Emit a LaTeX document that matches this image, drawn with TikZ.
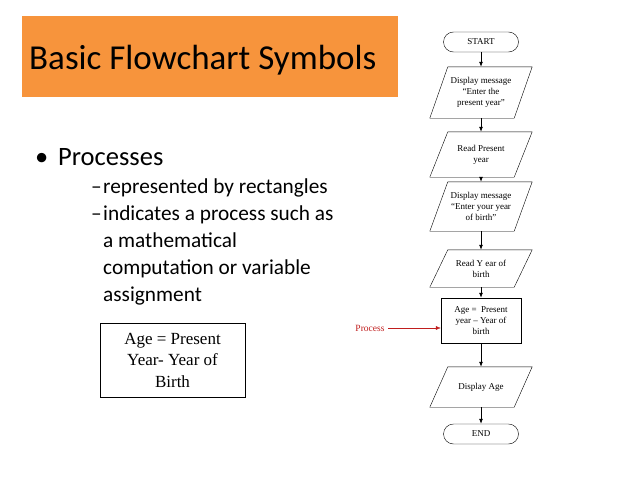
\documentclass[tikz,border=0pt]{standalone}
\usepackage{fontspec}
\setmainfont{Liberation Serif}
\newfontfamily\carl{Carlito}
\usetikzlibrary{calc,arrows.meta}
\definecolor{orng}{RGB}{247,148,60}
\definecolor{prred}{RGB}{192,30,30}
\begin{document}
\begin{tikzpicture}[x=1pt,y=-1pt,
  pbox/.style={inner sep=0,minimum width=84,align=center,font=\fontsize{9}{11}\selectfont},
  pill/.style={draw,rounded corners=10,minimum width=75,minimum height=20,inner sep=0,font=\fontsize{9}{11}\selectfont},
  rbox/.style={draw,minimum width=80,minimum height=45,inner sep=0,align=center,font=\fontsize{9}{11}\selectfont},
  arr/.style={-{Latex[length=5,width=4]},thick}]
\useasboundingbox (0,0) rectangle (638,479);
\fill[orng] (22,16) rectangle (398,97);
\node[anchor=west,inner sep=0,font=\carl\fontsize{35}{40}\selectfont] (title) at (29,60) {Basic Flowchart Symbols};
\node[anchor=west,inner sep=0,font=\carl\fontsize{26.5}{30}\selectfont] (b1) at (35,157) {\makebox[23pt][l]{•}Processes};
\node[anchor=north west,inner sep=0,align=left,font=\carl\fontsize{21.3}{26.8}\selectfont] (b2) at (91,179) {%
\makebox[12pt][l]{–}represented by rectangles\\
\makebox[12pt][l]{–}indicates a process such as\\
\hspace{12pt}a mathematical\\
\hspace{12pt}computation or variable\\
\hspace{12pt}assignment};
\node[draw,minimum width=145,minimum height=74,inner sep=0,align=center,font=\fontsize{17}{21.5}\selectfont] (age) at (172.5,360) {Age = Present\\Year- Year of\\Birth};

\node[pill] (start) at (481,42) {START};
\node[pbox,minimum height=51] (p1) at (481,92.5) {Display message\\“Enter the\\present year”};
\node[pbox,minimum height=45] (p2) at (481,154.5) {Read Present\\year};
\node[pbox,minimum height=49] (p3) at (481,206.5) {Display message\\“Enter your year\\of birth”};
\node[pbox,minimum height=37] (p4) at (481,268.5) {Read Y ear of\\birth};
\node[rbox] (proc) at (481,320.5) {Age = \ Present\\year – Year of\\birth};
\node[pbox,minimum height=40] (p5) at (481,387) {Display Age};
\node[pill] (end) at (481,434) {END};
\foreach \p in {p1,p2,p3,p4,p5}
  \draw ($(\p.south west)+(-9,0)$) -- ($(\p.north west)+(9,0)$) -- ($(\p.north east)+(9,0)$) -- ($(\p.south east)+(-9,0)$) -- cycle;
\draw[arr] (start) -- (p1);
\draw[arr] (p1) -- (p2);
\draw[arr] (p2) -- (p3);
\draw[arr] (p3) -- (p4);
\draw[arr] (p4) -- (proc);
\draw[arr] (proc) -- (p5);
\draw[arr] (p5) -- (end);
\node[text=prred,font=\fontsize{9.5}{11}\selectfont] (plab) at (370,328) {Process};
\draw[-{Latex[length=5,width=4]},prred] (plab) -- (proc.west |- plab);
\end{tikzpicture}
\end{document}
